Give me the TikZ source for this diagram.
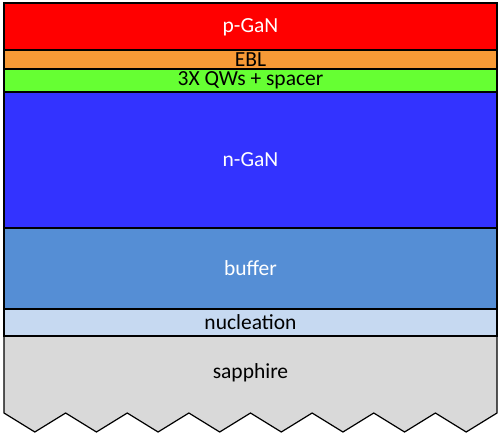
\documentclass[tikz,border=0pt]{standalone}
\usepackage{fontspec}
\setmainfont{Carlito}
\definecolor{pgancol}{HTML}{FF0000}
\definecolor{eblcol}{HTML}{F79A36}
\definecolor{qwcol}{HTML}{66FF33}
\definecolor{ngancol}{HTML}{3333FF}
\definecolor{buffercol}{HTML}{558ED5}
\definecolor{nuclcol}{HTML}{C6D9F1}
\definecolor{sapphcol}{HTML}{D9D9D9}

\begin{document}
\begin{tikzpicture}[x=1pt, y=-1pt, line width=1.2pt,
    every node/.style={font=\fontsize{21.5}{24}\selectfont}]
    \useasboundingbox (0,0) rectangle (500,439);

    % substrate with broken bottom edge
    \filldraw[fill=sapphcol] (4,336) -- (4,413)
      \foreach \k in {1,...,8} { -- ({4+30.8125*(2*\k-1)},432) -- ({4+30.8125*2*\k},413) }
      -- (497,336) -- cycle;

    % layer stack
    \filldraw[fill=nuclcol] (4,309) rectangle (497,336);
    \filldraw[fill=buffercol] (4,228) rectangle (497,309);
    \filldraw[fill=ngancol] (4,92) rectangle (497,228);
    \filldraw[fill=qwcol] (4,69) rectangle (497,92);
    \filldraw[fill=eblcol] (4,50) rectangle (497,69);
    \filldraw[fill=pgancol] (4,3) rectangle (497,50);

    % labels
    \node[white] (pgan) at (250.5,27) {p-GaN};
    \node (ebl) at (250.5,59.5) {EBL};
    \node (qws) at (250.5,80.5) {3X QWs + spacer};
    \node[white] (ngan) at (250.5,160) {n-GaN};
    \node[white] (buffer) at (250.5,268.5) {buffer};
    \node (nucl) at (250.5,322.5) {nucleation};
    \node (sapph) at (250.5,373) {sapphire};
  \end{tikzpicture}
\end{document}
